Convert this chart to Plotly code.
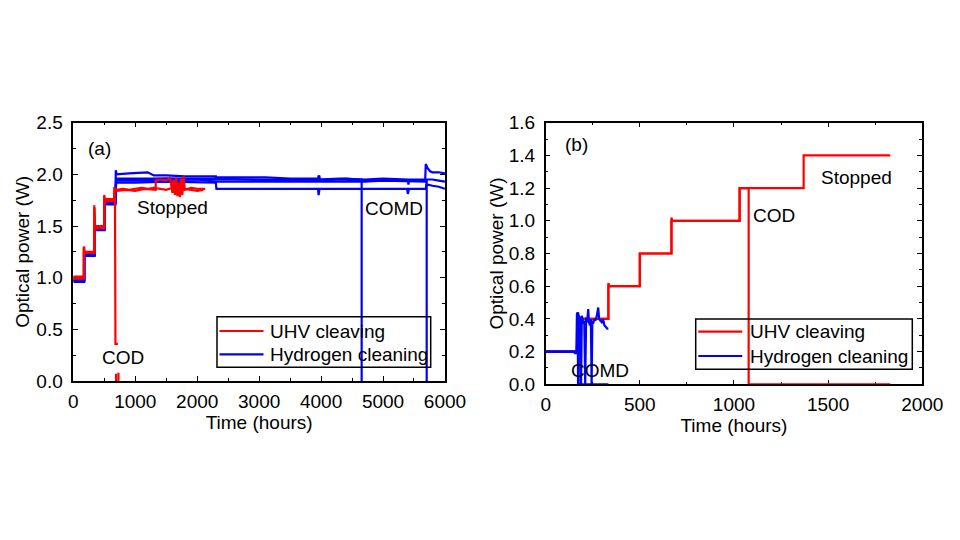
import plotly.graph_objects as go

RED = "#ff0000"
BLUE = "#0000ff"
FONT = "Liberation Sans, Arial, sans-serif"
FS = 19
W, H = 960, 540

# ---------------- Panel (a) data ----------------
# UHV cleaving devices (time in hours, optical power in W)
ua1_t = [0, 170, 170, 175, 180, 340, 340, 345, 350, 500, 500, 505, 510, 660, 665, 672, 680, 680, 720, None, 690, 690, None, 728, 728]
ua1_p = [1.00, 1.00, 1.28, 1.30, 1.25, 1.25, 1.68, 1.60, 1.50, 1.50, 1.78, 1.77, 1.76, 1.76, 1.86, 1.86, 0.36, 0.36, 0.36, None, 0.07, 0.0, None, 0.08, 0.0]

ua2_t = [0, 168, 168, 172, 178, 338, 338, 342, 350, 498, 498, 503, 510, 662, 662, 668, 700, 800, 900, 1000, 1100, 1200, 1300, 1400, 1500, 1600, 1700, 1800, 1900, 2000, 2130]
ua2_p = [1.01, 1.01, 1.30, 1.26, 1.24, 1.24, 1.70, 1.55, 1.49, 1.49, 1.80, 1.76, 1.75, 1.75, 1.88, 1.86, 1.85, 1.86, 1.85, 1.86, 1.87, 1.86, 1.87, 1.86, 1.85, 1.87, 1.86, 1.85, 1.87, 1.86, 1.86]

ua3_t = [0, 172, 172, 342, 342, 502, 502, 664, 664, 700, 850, 1000, 1150, 1300, 1330, 1330, 1400, 1500, 1560, 1580, 1600, 1620, 1640, 1660, 1680, 1700, 1720, 1740, 1760, 1780, 1800, 1800, 1900, 2000, 2100]
ua3_p = [0.99, 0.99, 1.24, 1.24, 1.48, 1.48, 1.74, 1.74, 1.84, 1.84, 1.85, 1.84, 1.86, 1.85, 1.85, 1.94, 1.95, 1.94, 1.96, 1.90, 1.82, 1.95, 1.80, 1.97, 1.79, 1.92, 1.78, 1.96, 1.80, 1.98, 1.85, 1.86, 1.85, 1.84, 1.85]

# Hydrogen cleaning devices
hb1_t = [0, 175, 175, 345, 345, 505, 505, 680, 685, 700, 900, 1100, 1200, 1300, 1500, 1800, 2100, 2300, 2300, 2700, 3100, 3500, 3960, 3970, 3980, 4200, 4400, 4640, 4655, 4655]
hb1_p = [0.97, 0.97, 1.22, 1.22, 1.47, 1.47, 1.72, 1.72, 2.04, 2.00, 2.01, 2.02, 2.02, 1.99, 1.99, 1.98, 1.98, 1.98, 1.97, 1.97, 1.97, 1.96, 1.96, 1.99, 1.95, 1.95, 1.96, 1.95, 1.95, 0.0]

hb2_t = [0, 175, 175, 345, 345, 505, 505, 680, 690, 1000, 1500, 2000, 2300, 2800, 3300, 3800, 3950, 4300, 4700, 5000, 5400, 5500, 5690, 5705, 5705]
hb2_p = [0.96, 0.96, 1.21, 1.21, 1.46, 1.46, 1.73, 1.73, 1.96, 1.96, 1.96, 1.95, 1.95, 1.95, 1.94, 1.94, 1.94, 1.95, 1.94, 1.95, 1.94, 1.94, 1.94, 1.94, 0.0]

hb3_t = [0, 175, 175, 345, 345, 505, 505, 680, 690, 1000, 1500, 2000, 2300, 2310, 2800, 3300, 3950, 3960, 3975, 3990, 4500, 4900, 5390, 5400, 5420, 5500, 5690, 5700, 5720, 5800, 5900, 6000]
hb3_p = [0.98, 0.98, 1.23, 1.23, 1.48, 1.48, 1.71, 1.71, 1.92, 1.92, 1.93, 1.92, 1.92, 1.86, 1.86, 1.86, 1.86, 1.80, 1.86, 1.86, 1.86, 1.86, 1.86, 1.81, 1.86, 1.86, 1.86, 1.90, 1.90, 1.89, 1.88, 1.86]

hb4_t = [0, 175, 175, 345, 345, 505, 505, 680, 690, 1000, 1500, 2000, 2300, 2800, 3300, 3950, 3960, 3970, 4300, 4700, 5000, 5500, 5680, 5690, 5720, 5760, 5800, 5900, 6000]
hb4_p = [0.97, 0.97, 1.22, 1.22, 1.47, 1.47, 1.74, 1.74, 1.94, 1.94, 1.94, 1.95, 1.93, 1.93, 1.93, 1.93, 1.99, 1.93, 1.93, 1.93, 1.94, 1.93, 1.93, 2.10, 2.06, 2.03, 2.02, 2.02, 2.01]

hb5_t = [0, 175, 175, 345, 345, 505, 505, 680, 690, 1000, 1500, 2000, 2300, 2800, 3300, 3950, 4300, 4700, 5000, 5400, 5410, 5420, 5700, 5800, 5900, 6000]
hb5_p = [0.98, 0.98, 1.23, 1.23, 1.48, 1.48, 1.73, 1.73, 1.95, 1.95, 1.96, 1.96, 1.96, 1.95, 1.95, 1.95, 1.96, 1.95, 1.96, 1.95, 1.90, 1.95, 1.95, 1.95, 1.94, 1.93]

# ---------------- Panel (b) data ----------------
ub1_t = [0, 170, 170, 333, 333, 338, 345, 500, 500, 668, 668, 672, 680, 1030, 1030, 1370, 1370, 1830]
ub1_p = [0.20, 0.20, 0.40, 0.40, 0.62, 0.60, 0.60, 0.60, 0.80, 0.80, 1.02, 1.00, 1.00, 1.00, 1.20, 1.20, 1.40, 1.40]

ub2_t = [0, 170, 170, 333, 333, 500, 500, 668, 668, 1030, 1030, 1078, 1078, 1830]
ub2_p = [0.20, 0.20, 0.40, 0.40, 0.60, 0.60, 0.80, 0.80, 1.00, 1.00, 1.20, 1.20, 0.0, 0.0]

hc1_t = [0, 150, 155, 163, 166, 170, 172, 176, 180, 184, 188, 192, 196, 200, 205, 210, 215, 220, 226, 230, 235, 240, 244, 248, 252, 258, 265, 272, 279, 284, 290, 298, 305, 312, 320, 327, 333]
hc1_p = [0.20, 0.20, 0.19, 0.19, 0.43, 0.44, 0.0, 0.42, 0.41, 0.38, 0.0, 0.42, 0.40, 0.37, 0.39, 0.0, 0.41, 0.38, 0.46, 0.38, 0.36, 0.40, 0.0, 0.39, 0.37, 0.40, 0.39, 0.42, 0.47, 0.40, 0.39, 0.38, 0.40, 0.36, 0.35, 0.34, 0.34]

hc2_t = [0, 160, 165, 168, 172, 175, 175, 333]
hc2_p = [0.20, 0.20, 0.19, 0.43, 0.44, 0.42, 0.0, 0.0]

series_names = ["UHV cleaving", "Hydrogen cleaning"]

fig = go.Figure()

def add(t, p, color, xa, ya, name):
    fig.add_trace(go.Scatter(
        x=t, y=p, mode="lines", line=dict(color=color, width=2.2),
        xaxis=xa, yaxis=ya, name=name, showlegend=False,
        hoverinfo="skip", connectgaps=False, cliponaxis=False))

# Panel (a): blue underneath, red on top
for t, p in [(hb3_t, hb3_p), (hb5_t, hb5_p), (hb4_t, hb4_p), (hb2_t, hb2_p), (hb1_t, hb1_p)]:
    add(t, p, BLUE, "x", "y", series_names[1])
for t, p in [(ua1_t, ua1_p), (ua2_t, ua2_p), (ua3_t, ua3_p)]:
    add(t, p, RED, "x", "y", series_names[0])

# Panel (b): red underneath, blue on top
for t, p in [(ub1_t, ub1_p), (ub2_t, ub2_p)]:
    add(t, p, RED, "x2", "y2", series_names[0])
for t, p in [(hc2_t, hc2_p), (hc1_t, hc1_p)]:
    add(t, p, BLUE, "x2", "y2", series_names[1])

axis_common = dict(
    showline=True, linecolor="black", linewidth=1.6, mirror="allticks",
    ticks="inside", ticklen=5, tickwidth=1.2, tickcolor="black",
    showgrid=False, zeroline=False, layer="below traces",
    automargin=False,
    tickfont=dict(family=FONT, size=FS, color="black"),
    title_font=dict(family=FONT, size=FS, color="black"),
)

fig.update_layout(
    width=W, height=H,
    margin=dict(l=0, r=0, t=0, b=0, autoexpand=False),
    paper_bgcolor="white", plot_bgcolor="white",
    font=dict(family=FONT, size=FS, color="black"),
    showlegend=False,
    xaxis=dict(domain=[0.0764, 0.4635], range=[0, 6000], dtick=1000, ticklabelstandoff=2,
               minor=dict(dtick=500, ticks="inside", ticklen=3, tickcolor="black"),
               title=dict(text="Time (hours)", standoff=3), anchor="y", **axis_common),
    yaxis=dict(domain=[0.2944, 0.7728], range=[0, 2.5], dtick=0.5, tickformat=".1f", ticklabelstandoff=5,
               minor=dict(dtick=0.25, ticks="inside", ticklen=3, tickcolor="black"),
               title=dict(text="Optical power (W)", standoff=2), anchor="x", **axis_common),
    xaxis2=dict(domain=[0.5684, 0.9607], range=[0, 2000], dtick=500, ticklabelstandoff=2,
                minor=dict(dtick=250, ticks="inside", ticklen=3, tickcolor="black"),
                title=dict(text="Time (hours)", standoff=3), anchor="y2", **axis_common),
    yaxis2=dict(domain=[0.2883, 0.7728], range=[0, 1.6], dtick=0.2, tickformat=".1f", ticklabelstandoff=5,
                minor=dict(dtick=0.1, ticks="inside", ticklen=3, tickcolor="black"),
                title=dict(text="Optical power (W)", standoff=0), anchor="x2", **axis_common),
)

def note(text, x, y, xr, yr, xanchor="center"):
    fig.add_annotation(text=text, x=x, y=y, xref=xr, yref=yr, showarrow=False,
                       xanchor=xanchor, yanchor="middle",
                       font=dict(family=FONT, size=FS, color="black"))

note("(a)", 200, 2.255, "x", "y", "left")
note("Stopped", 1600, 1.684, "x", "y")
note("COMD", 5170, 1.668, "x", "y")
note("COD", 807, 0.226, "x", "y")
note("(b)", 93, 1.464, "x2", "y2", "left")
note("Stopped", 1650, 1.264, "x2", "y2")
note("COD", 1214, 1.035, "x2", "y2")
note("COMD", 290, 0.0875, "x2", "y2")

# Framed legends (pixel layout -> paper coordinates)
def legend_box(box, line_x, text_x, rows):
    px = lambda v: v / W
    py = lambda v: 1 - v / H
    fig.add_shape(type="rect", xref="paper", yref="paper",
                  x0=px(box[0]), x1=px(box[1]), y0=py(box[3]), y1=py(box[2]),
                  line=dict(color="black", width=1.5), fillcolor="rgba(0,0,0,0)")
    for (yy, color, label) in rows:
        fig.add_shape(type="line", xref="paper", yref="paper",
                      x0=px(line_x[0]), x1=px(line_x[1]), y0=py(yy), y1=py(yy),
                      line=dict(color=color, width=2.2))
        fig.add_annotation(text=label, x=px(text_x), y=py(yy), xref="paper", yref="paper",
                           showarrow=False, xanchor="left", yanchor="middle",
                           font=dict(family=FONT, size=FS, color="black"))

legend_box((217, 430.7, 316.7, 367.3), (219.5, 263.5), 267.5,
           [(331.0, RED, series_names[0]), (354.3, BLUE, series_names[1])])
legend_box((695.7, 912.3, 319.0, 369.3), (698.3, 742.3), 747.5,
           [(331.7, RED, series_names[0]), (356.0, BLUE, series_names[1])])

fig.write_html("out.html", config={"displayModeBar": False})
